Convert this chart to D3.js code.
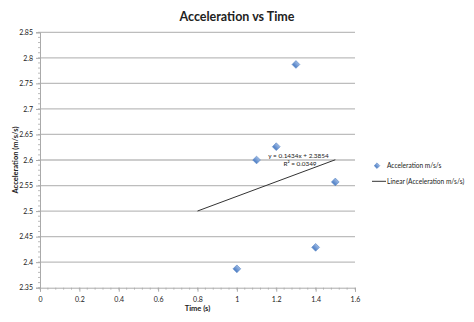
<!DOCTYPE html>
<html><head><meta charset="utf-8">
<script src="https://cdn.jsdelivr.net/npm/d3@7"></script>
<style>
html,body{margin:0;padding:0;background:#fff;}
text{font-family:Lato,"Open Sans",sans-serif;fill:#222;}
</style></head>
<body>
<svg id="chart" width="474" height="322"></svg>
<script>
const times = [1.0, 1.1, 1.2, 1.3, 1.4, 1.5];
const accel = [2.387, 2.600, 2.626, 2.787, 2.429, 2.557];
const xTicks = [0, 0.2, 0.4, 0.6, 0.8, 1, 1.2, 1.4, 1.6];
const yTicks = [2.35, 2.4, 2.45, 2.5, 2.55, 2.6, 2.65, 2.7, 2.75, 2.8, 2.85];
const trendSlope = 0.1434, trendIntercept = 2.3854;
const trendRange = [0.8, 1.5];
const titleText = "Acceleration vs Time";
const xLabel = "Time (s)";
const yLabel = "Acceleration (m/s/s)";
const seriesName = "Acceleration m/s/s";
const trendName = "Linear (Acceleration m/s/s)";
const eqText = "y = 0.1434x + 2.3854";
const r2Text = "R\u00B2 = 0.0349";

const svg = d3.select("#chart");
const m = {left:40, right:119, top:32.3, bottom:34.3};
const W = 474, H = 322;
const x = d3.scaleLinear().domain([0,1.6]).range([m.left, W - m.right]);
const y = d3.scaleLinear().domain([2.35,2.85]).range([H - m.bottom, m.top]);

// gridlines
svg.append("g").selectAll("line").data(yTicks.slice(1)).join("line")
  .attr("x1", x(0)).attr("x2", x(1.6))
  .attr("y1", d=>y(d)).attr("y2", d=>y(d))
  .attr("stroke", "#bdbdbd").attr("stroke-width", 1.3);

// y axis
const yMinor = d3.range(2.35, 2.8501, 0.01);
svg.append("g").selectAll("line").data(yMinor).join("line")
  .attr("x1", x(0)-2).attr("x2", x(0))
  .attr("y1", d=>y(d)).attr("y2", d=>y(d))
  .attr("stroke", "#aaa").attr("stroke-width", 0.8);
const yAxis = d3.axisLeft(y).tickValues(yTicks).tickSize(4).tickPadding(3)
  .tickFormat(d3.format(""));
const gy = svg.append("g").attr("transform", `translate(${x(0)},0)`).call(yAxis);
gy.select(".domain").attr("stroke", "#aaa").attr("stroke-width", 1);
gy.selectAll(".tick line").attr("stroke", "#aaa");
gy.selectAll(".tick text").style("font-size","7px").style("font-family","Lato,sans-serif").attr("fill","#333");

// x axis
const xMinor = d3.range(0, 1.6001, 0.04);
svg.append("g").selectAll("line").data(xMinor).join("line")
  .attr("x1", d=>x(d)).attr("x2", d=>x(d))
  .attr("y1", y(2.35)).attr("y2", y(2.35)+2)
  .attr("stroke", "#aaa").attr("stroke-width", 0.8);
const xAxis = d3.axisBottom(x).tickValues(xTicks).tickSize(4).tickPadding(5)
  .tickFormat(d3.format(""));
const gx = svg.append("g").attr("transform", `translate(0,${y(2.35)})`).call(xAxis);
gx.select(".domain").attr("stroke", "#aaa").attr("stroke-width", 1);
gx.selectAll(".tick line").attr("stroke", "#aaa");
gx.selectAll(".tick text").style("font-size","7px").style("font-family","Lato,sans-serif").attr("fill","#333");

// trendline
svg.append("line")
  .attr("x1", x(trendRange[0])).attr("y1", y(trendSlope*trendRange[0]+trendIntercept))
  .attr("x2", x(trendRange[1])).attr("y2", y(trendSlope*trendRange[1]+trendIntercept))
  .attr("stroke", "#333").attr("stroke-width", 1);

// gradient for markers
const defs = svg.append("defs");
const grad = defs.append("linearGradient").attr("id","mk").attr("x1","0").attr("y1","0").attr("x2","0").attr("y2","1");
grad.append("stop").attr("offset","0%").attr("stop-color","#9cb9e4");
grad.append("stop").attr("offset","100%").attr("stop-color","#4a7cc4");

const diamond = d3.symbol().type(d3.symbolSquare).size(30);
const pts = times.map((t,i)=>({t, a: accel[i]}));
svg.append("g").selectAll("path").data(pts).join("path")
  .attr("d", diamond)
  .attr("transform", d=>`translate(${x(d.t)},${y(d.a)}) rotate(45)`)
  .attr("fill", "url(#mk)").attr("stroke","#5a86c5").attr("stroke-width",0.6);

// equation
svg.append("text").attr("x", 298.5).attr("y", 158.3).attr("text-anchor","middle")
  .style("font-size","6.4px").text(eqText);
svg.append("text").attr("x", 300).attr("y", 165.5).attr("text-anchor","middle")
  .style("font-size","6.4px").text(r2Text);

// title
svg.append("text").attr("x", 237).attr("y", 21).attr("text-anchor","middle")
  .style("font-size","12.5px").style("font-weight","bold").attr("fill","#111").text(titleText);

// axis titles
svg.append("text").attr("x", (x(0)+x(1.6))/2).attr("y", 310.5).attr("text-anchor","middle")
  .style("font-size","7.5px").style("font-weight","bold").text(xLabel);
svg.append("text").attr("transform", `translate(17.5,${(y(2.35)+y(2.85))/2}) rotate(-90)`)
  .attr("text-anchor","middle")
  .style("font-size","7.5px").style("font-weight","bold").text(yLabel);

// legend
const lg = svg.append("g");
lg.append("path").attr("d", d3.symbol().type(d3.symbolSquare).size(16))
  .attr("transform","translate(377,165.7) rotate(45)").attr("fill","url(#mk)").attr("stroke","#5a86c5").attr("stroke-width",0.5);
lg.append("text").attr("x", 387).attr("y", 168).style("font-size","6.6px").text(seriesName);
lg.append("line").attr("x1", 372).attr("x2", 386).attr("y1", 181.3).attr("y2", 181.3)
  .attr("stroke","#333").attr("stroke-width",1);
lg.append("text").attr("x", 387).attr("y", 183.6).style("font-size","6.6px").text(trendName);
</script>
</body></html>
